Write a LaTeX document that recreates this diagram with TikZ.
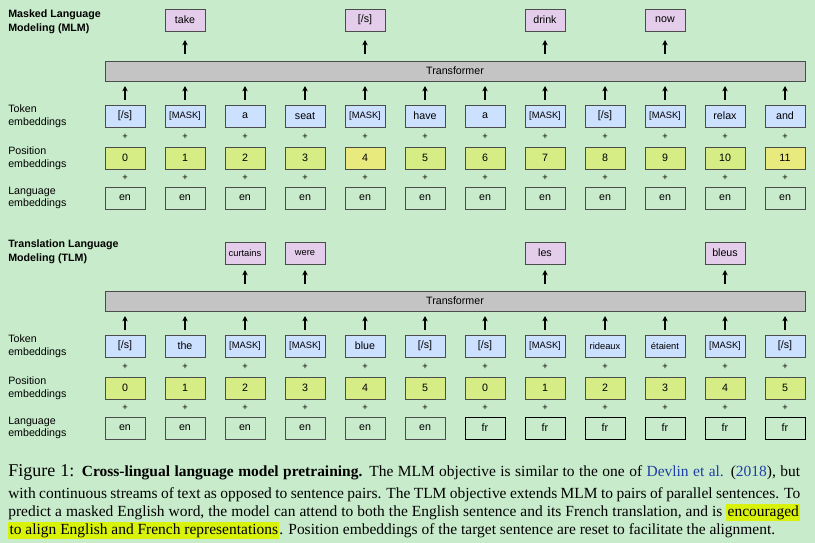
\documentclass[tikz,border=0pt]{standalone}
\usepackage{fontspec}
\setmainfont{Liberation Serif}
\newfontfamily\dsf{Liberation Sans}
\usetikzlibrary{arrows.meta}
\definecolor{bg}{HTML}{C8EBCB}
\definecolor{tok}{HTML}{CCE0FF}
\definecolor{pos}{HTML}{D6EC85}
\definecolor{posy}{HTML}{E8EA7E}
\definecolor{outc}{HTML}{E4CDEA}
\definecolor{trc}{HTML}{C4C4C4}
\definecolor{hl}{HTML}{D9F20A}
\definecolor{cite}{HTML}{1F3FA8}
\tikzset{
 box/.style={draw=black!70,line width=0.6pt,minimum width=30pt,minimum height=16.5pt,inner sep=0pt,font=\dsf\fontsize{8}{9}\selectfont},
 tk/.style={box,fill=tok},
 ps/.style={box,fill=pos},
 lg/.style={box,fill=bg},
 outbox/.style={box,fill=outc},
 tr/.style={draw=black!70,fill=trc,line width=0.6pt,minimum width=525pt,minimum height=15pt,inner sep=0pt,font=\dsf\fontsize{8}{9}\selectfont},
 arr/.style={-{Stealth[length=4pt,width=4pt]},line width=0.8pt},
 lbl/.style={anchor=west,align=left,font=\dsf\fontsize{8}{9.5}\selectfont,inner sep=0pt},
 ttl/.style={anchor=north west,align=left,font=\dsf\bfseries\fontsize{8}{10}\selectfont,inner sep=0pt},
 pl/.style={font=\dsf\fontsize{7}{8}\selectfont,inner sep=0pt},
 captx/.style={anchor=base west,inner sep=0pt,font=\fontsize{11.6}{13}\selectfont}
}
\begin{document}
\begin{tikzpicture}[x=0.75pt,y=-0.75pt]
\fill[bg] (0,0) rectangle (815,543);
\useasboundingbox (0,0) rectangle (815,543);
% ---------- MLM
\node[ttl] (t1) at (8,10) {Masked Language\\Modeling (MLM)};
\node[tr] (T1) at (455,71) {Transformer};
\node[lbl] (l1a) at (8,116) {Token\\embeddings};
\node[lbl] (l1b) at (8,158) {Position\\embeddings};
\node[lbl] (l1c) at (8,198) {Language\\embeddings};
\foreach \i/\w/\p in {1/{[/s]}/0,2/{\scriptsize[MASK]}/1,3/a/2,4/seat/3,5/{\scriptsize[MASK]}/4,6/have/5,7/a/6,8/{\scriptsize[MASK]}/7,9/{[/s]}/8,10/{\scriptsize[MASK]}/9,11/relax/10,12/and/11}{
  \pgfmathsetmacro\xx{65+60*\i}
  \node[tk] (a\i) at (\xx,116) {\w};
  \node[ps] (b\i) at (\xx,158) {\p};
  \node[lg] (c\i) at (\xx,198) {en};
  \node[pl] (pa\i) at (\xx,137) {+};
  \node[pl] (pb\i) at (\xx,178) {+};
  \coordinate (u\i) at (\xx,100);
  \coordinate (v\i) at (\xx,86);
  \draw[arr] (u\i) -- (v\i);
}
\node[ps,fill=posy] at (b5) {4};
\node[ps,fill=posy] at (b12) {11};
\foreach \i/\w in {2/take,5/{[/s]},8/drink,10/now}{
  \pgfmathsetmacro\xx{65+60*\i}
  \node[outbox] (o\i) at (\xx,20) {\w};
  \coordinate (p\i) at (\xx,54);
  \coordinate (q\i) at (\xx,40);
  \draw[arr] (p\i) -- (q\i);
}
% ---------- TLM
\node[ttl] (t2) at (8,240) {Translation Language\\Modeling (TLM)};
\node[tr] (T2) at (455,301) {Transformer};
\node[lbl] (l2a) at (8,346) {Token\\embeddings};
\node[lbl] (l2b) at (8,388) {Position\\embeddings};
\node[lbl] (l2c) at (8,428) {Language\\embeddings};
\foreach \i/\w/\p/\l in {1/{[/s]}/0/en,2/the/1/en,3/{\scriptsize[MASK]}/2/en,4/{\scriptsize[MASK]}/3/en,5/blue/4/en,6/{[/s]}/5/en,7/{[/s]}/0/fr,8/{\scriptsize[MASK]}/1/fr,9/{\scriptsize rideaux}/2/fr,10/{\scriptsize étaient}/3/fr,11/{\scriptsize[MASK]}/4/fr,12/{[/s]}/5/fr}{
  \pgfmathsetmacro\xx{65+60*\i}
  \node[tk] (d\i) at (\xx,346) {\w};
  \node[ps] (e\i) at (\xx,388) {\p};
  \node[lg] (f\i) at (\xx,428) {\l};
  \node[pl] (pd\i) at (\xx,367) {+};
  \node[pl] (pe\i) at (\xx,408) {+};
  \coordinate (w\i) at (\xx,330);
  \coordinate (z\i) at (\xx,316);
  \draw[arr] (w\i) -- (z\i);
}
\foreach \i in {7,...,12}{\node[lg,draw=black] at (f\i) {fr};}
\foreach \i/\w in {3/{\scriptsize curtains},4/{\scriptsize were},8/les,11/bleus}{
  \pgfmathsetmacro\xx{65+60*\i}
  \node[outbox] (r\i) at (\xx,253) {\w};
  \coordinate (m\i) at (\xx,284);
  \coordinate (n\i) at (\xx,270);
  \draw[arr] (m\i) -- (n\i);
}
% ---------- caption
\def\hlb#1{{\setlength{\fboxsep}{1pt}\colorbox{hl}{#1}}}
\node[captx] (c1) at (8,476) {\makebox[594pt][s]{\fontsize{13.5}{14}\selectfont Figure 1: \fontsize{11.6}{13}\selectfont\textbf{Cross-lingual language model pretraining.} The MLM objective is similar to the one of \textcolor{cite}{Devlin et al.} (\textcolor{cite}{2018}), but}};
\node[captx] (c2) at (8,498) {\makebox[594pt][s]{with continuous streams of text as opposed to sentence pairs. The TLM objective extends MLM to pairs of parallel sentences. To}};
\node[captx] (c3) at (8,516) {\makebox[594pt][s]{predict a masked English word, the model can attend to both the English sentence and its French translation, and is \hlb{encouraged}}};
\node[captx] (c4) at (8,534) {\hlb{to align English and French representations}. Position embeddings of the target sentence are reset to facilitate the alignment.};
\end{tikzpicture}
\end{document}
